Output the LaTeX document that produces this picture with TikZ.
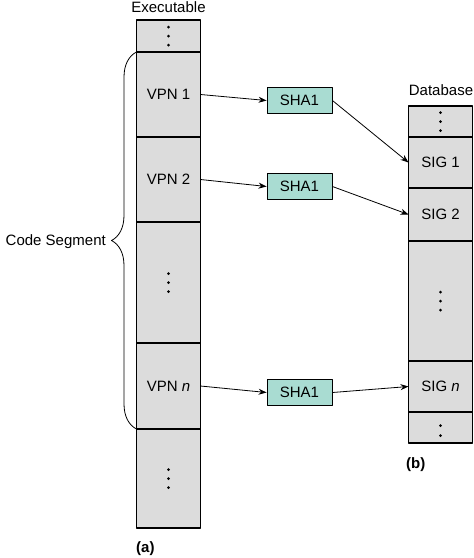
\documentclass[tikz,border=0pt]{standalone}
\usepackage{fontspec}
\setmainfont{Liberation Sans}
\usetikzlibrary{positioning,calc,decorations.pathreplacing,arrows.meta}
\definecolor{cellgray}{HTML}{DCDCDC}
\definecolor{hashteal}{HTML}{A9DCD2}
\tikzset{
  cell/.style={draw,line width=1.2pt,fill=cellgray,minimum width=64pt,inner sep=0pt,outer sep=0pt},
  hash/.style={draw,line width=0.9pt,fill=hashteal,minimum width=65pt,minimum height=26pt,inner sep=0pt},
  lbl/.style={inner sep=0pt}
}
\begin{document}
\begin{tikzpicture}[x=1pt,y=-1pt,line cap=round,line join=round,>={Stealth[length=8pt,width=6pt]},
  font=\fontsize{15}{18}\selectfont]
\useasboundingbox (0,0) rectangle (474,558);
% executable
\node[cell,minimum height=32pt,anchor=north] (etop) at (168.5,20) {};
\node[cell,minimum height=85pt,below=0pt of etop] (vpn1) {VPN 1};
\node[cell,minimum height=85pt,below=0pt of vpn1] (vpn2) {VPN 2};
\node[cell,minimum height=121pt,below=0pt of vpn2] (emid) {};
\node[cell,minimum height=86pt,below=0pt of emid] (vpnn) {VPN \textit{n}};
\node[cell,minimum height=99pt,below=0pt of vpnn] (ebot) {};
% database
\node[cell,minimum height=31pt,anchor=north] (dtop) at (440.5,106) {};
\node[cell,minimum height=51pt,below=0pt of dtop] (sig1) {SIG 1};
\node[cell,minimum height=53pt,below=0pt of sig1] (sig2) {SIG 2};
\node[cell,minimum height=120pt,below=0pt of sig2] (dmid) {};
\node[cell,minimum height=51pt,below=0pt of dmid] (sign) {SIG \textit{n}};
\node[cell,minimum height=31pt,below=0pt of sign] (dbot) {};
\foreach \c in {etop,emid,ebot,dtop,dmid}
\foreach \k in {-9,0,9}
\fill ($(\c)+(0,\k)$) circle (1.5pt);
\foreach \k in {-2,8}
\fill ($(dbot)+(0,\k)$) circle (1.5pt);
% hashes
\node[hash] (sha1) at (299.5,100.5) {SHA1};
\node[hash] (sha2) at (299.5,186.5) {SHA1};
\node[hash] (sha3) at (299.5,392.5) {SHA1};
\draw[->,thick] (vpn1.east)--(sha1.west);
\draw[->,thick] (vpn2.east)--(sha2.west);
\draw[->,thick] (vpnn.east)--(sha3.west);
\draw[->,thick] (sha1.east)--(sig1.west);
\draw[->,thick] (sha2.east)--(sig2.west);
\draw[->,thick] (sha3.east)--(sign.west);
% brace
\draw[thick,decorate,decoration={brace,amplitude=25pt}] (vpnn.south west)--(vpn1.north west);
\node[lbl,anchor=base east] (seg) at (106,245) {Code Segment};
\node[lbl,anchor=base] (exe) at (168.5,12.5) {Executable};
\node[lbl,anchor=base] (db) at (441,95) {Database};
\node[lbl,anchor=base west] (capa) at (136,552) {\textbf{(a)}};
\node[lbl,anchor=base west] (capb) at (406,468) {\textbf{(b)}};
\end{tikzpicture}
\end{document}
